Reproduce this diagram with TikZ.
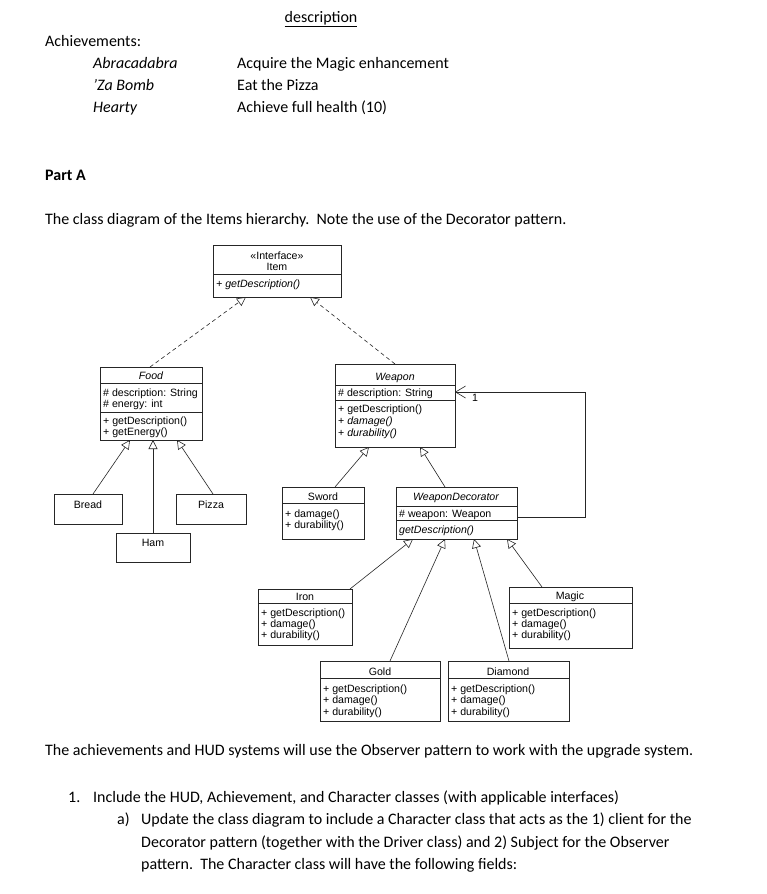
\documentclass[tikz,border=0pt]{standalone}
\usepackage{fontspec}
\setmainfont{Carlito}
\newfontfamily\umlfont{Liberation Sans}
\usetikzlibrary{arrows.meta}
\tikzset{
  body/.style={anchor=base west, inner sep=0pt, font=\fontsize{16}{19}\selectfont},
  uml/.style={anchor=base west, inner sep=0pt, font=\umlfont\fontsize{10.6}{12}\selectfont},
  umlc/.style={anchor=base, inner sep=0pt, font=\umlfont\fontsize{10.6}{12}\selectfont},
  box/.style={draw=black!85, line width=0.6pt, anchor=north west, inner sep=0pt},
  sep/.style={draw=black!85, line width=0.6pt},
  gen/.style={draw=black!85, line width=0.6pt, -{Triangle[open,length=9pt,width=9pt]}},
  real/.style={gen, dash pattern=on 4pt off 3pt},
  assoc/.style={draw=black!85, line width=0.6pt, -{Straight Barb[length=10pt,width=12pt]}}
}
\newcommand{\cbox}[5]{\node[box, minimum width=#4-#2, minimum height=#5-#3] (#1) at (#2,#3) {};}
\begin{document}
\begin{tikzpicture}[x=1pt,y=-1pt]
\useasboundingbox (0,0) rectangle (766,894);
\fill[white] (0,0) rectangle (766,894);

% header text
\node[body, anchor=base] (hdesc) at (321,22) {\underline{description}};
\node[body] (hach) at (45,46) {Achievements:};
\node[body] (a1) at (93,68) {\itshape Abracadabra};
\node[body] (a2) at (93,90) {\itshape ’Za Bomb};
\node[body] (a3) at (93,112) {\itshape Hearty};
\node[body] (d1) at (237,68) {Acquire the Magic enhancement};
\node[body] (d2) at (237,90) {Eat the Pizza};
\node[body] (d3) at (237,112) {Achieve full health (10)};
\node[body] (parta) at (45,180) {\bfseries Part A};
\node[body] (intro) at (45,224) {The class diagram of the Items hierarchy.\ \ Note the use of the Decorator pattern.};

% Item
\cbox{item}{213}{245}{341}{297}
\draw[sep] (213,274) -- (341,274);
\node[umlc] (itemst) at (277,259) {«Interface»};
\node[umlc] (itemn) at (277,270) {Item};
\node[uml] (itemm) at (216,287) {\itshape + getDescription()};

% Food
\cbox{food}{100}{367}{202}{440}
\draw[sep] (100,383) -- (202,383);
\draw[sep] (100,412) -- (202,412);
\node[umlc] (foodn) at (151,379) {\itshape Food};
\node[uml] (fa1) at (103,396) {\# description: String};
\node[uml] (fa2) at (103,407) {\# energy: int};
\node[uml] (fm1) at (103,424) {+ getDescription()};
\node[uml] (fm2) at (103,435) {+ getEnergy()};

% Weapon
\cbox{weapon}{335}{364}{455}{447}
\draw[sep] (335,385) -- (455,385);
\draw[sep] (335,400) -- (455,400);
\node[umlc] (weapn) at (395,380) {\itshape Weapon};
\node[uml] (wa1) at (338,396) {\# description: String};
\node[uml] (wm1) at (338,412) {+ getDescription()};
\node[uml] (wm2) at (338,424) {+ \itshape damage()};
\node[uml] (wm3) at (338,436) {+ \itshape durability()};

% Bread, Pizza, Ham
\cbox{bread}{54}{494}{122}{524}
\node[umlc] (breadn) at (88,508) {Bread};
\cbox{pizza}{176}{494}{246}{524}
\node[umlc] (pizzan) at (211,508) {Pizza};
\cbox{ham}{116}{533}{190}{562}
\node[umlc] (hamn) at (153,546) {Ham};

% Sword
\cbox{sword}{282}{487}{364}{539}
\draw[sep] (282,503) -- (364,503);
\node[umlc] (swordn) at (323,500) {Sword};
\node[uml] (sm1) at (285,517) {+ damage()};
\node[uml] (sm2) at (285,528) {+ durability()};

% WeaponDecorator
\cbox{wd}{396}{487}{517}{539}
\draw[sep] (396,506) -- (517,506);
\draw[sep] (396,520) -- (517,520);
\node[umlc] (wdn) at (456,500) {\itshape WeaponDecorator};
\node[uml] (wda) at (399,517) {\# weapon: Weapon};
\node[uml] (wdm) at (399,533) {\itshape getDescription()};

% Iron
\cbox{iron}{258}{589}{352}{645}
\draw[sep] (258,603) -- (352,603);
\node[umlc] (ironn) at (305,600) {Iron};
\node[uml] (im1) at (261,616) {+ getDescription()};
\node[uml] (im2) at (261,627) {+ damage()};
\node[uml] (im3) at (261,638) {+ durability()};

% Magic
\cbox{magic}{509}{587}{632}{648}
\draw[sep] (509,603) -- (632,603);
\node[umlc] (magicn) at (570,599) {Magic};
\node[uml] (mm1) at (512,616) {+ getDescription()};
\node[uml] (mm2) at (512,627) {+ damage()};
\node[uml] (mm3) at (512,638) {+ durability()};

% Gold
\cbox{gold}{320}{661}{440}{721}
\draw[sep] (320,678) -- (440,678);
\node[umlc] (goldn) at (380,675) {Gold};
\node[uml] (gm1) at (323,692) {+ getDescription()};
\node[uml] (gm2) at (323,703) {+ damage()};
\node[uml] (gm3) at (323,715) {+ durability()};

% Diamond
\cbox{diamond}{448}{661}{569}{721}
\draw[sep] (448,678) -- (569,678);
\node[umlc] (diamn) at (508,675) {Diamond};
\node[uml] (dm1) at (451,692) {+ getDescription()};
\node[uml] (dm2) at (451,703) {+ damage()};
\node[uml] (dm3) at (451,715) {+ durability()};

% connection points
\coordinate (itemL) at (246,297);
\coordinate (itemR) at (310,297);
\coordinate (foodT) at (150,367);
\coordinate (weapT) at (395,364);
\coordinate (foodB1) at (130,440);
\coordinate (foodB2) at (153,440);
\coordinate (foodB3) at (177,440);
\coordinate (breadT) at (93,494);
\coordinate (hamT) at (153,533);
\coordinate (pizzaT) at (213,494);
\coordinate (weapB1) at (369,447);
\coordinate (weapB2) at (420,447);
\coordinate (swordT) at (335,487);
\coordinate (wdT) at (445,487);
\coordinate (wdB1) at (413,539);
\coordinate (wdB2) at (445,539);
\coordinate (wdB3) at (474,539);
\coordinate (wdB4) at (507,539);
\coordinate (ironT) at (350,589);
\coordinate (goldT) at (390,661);
\coordinate (diamT) at (509,661);
\coordinate (magicT) at (542,587);
\coordinate (wdR) at (517,517);
\coordinate (weapR) at (455,392);

\draw[real] (foodT) -- (itemL);
\draw[real] (weapT) -- (itemR);
\draw[gen] (breadT) -- (foodB1);
\draw[gen] (hamT) -- (foodB2);
\draw[gen] (pizzaT) -- (foodB3);
\draw[gen] (swordT) -- (weapB1);
\draw[gen] (wdT) -- (weapB2);
\draw[gen] (ironT) -- (wdB1);
\draw[gen] (goldT) -- (wdB2);
\draw[gen] (diamT) -- (wdB3);
\draw[gen] (magicT) -- (wdB4);
\draw[assoc] (wdR) -- (585,517) -- (585,392) -- (weapR);
\node[uml] (mult) at (472,401) {1};

% footer text
\node[body] (obs) at (45,755) {The achievements and HUD systems will use the Observer pattern to work with the upgrade system.};
\node[body] (n1) at (68,802) {1.};
\node[body] (t1) at (93,802) {Include the HUD, Achievement, and Character classes (with applicable interfaces)};
\node[body] (na) at (117,824) {a)};
\node[body] (ta1) at (141,824) {Update the class diagram to include a Character class that acts as the 1) client for the};
\node[body] (ta2) at (141,847) {Decorator pattern (together with the Driver class) and 2) Subject for the Observer};
\node[body] (ta3) at (141,869) {pattern.\ \ The Character class will have the following fields:};
\end{tikzpicture}
\end{document}
